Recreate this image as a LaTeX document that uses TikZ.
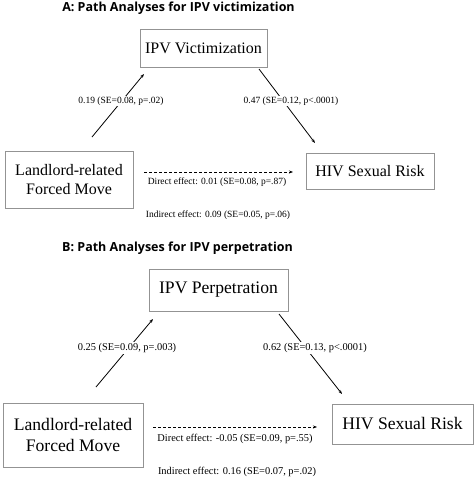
\documentclass[tikz,border=0pt]{standalone}
\usepackage{fontspec}
\setmainfont{Liberation Serif}
\newfontfamily\titlefont{Open Sans}
\usetikzlibrary{arrows.meta}
\tikzset{
	boxA/.style={
		draw=gray!85,
		line width=0.9pt,
		inner sep=0pt,
		align=center,
		font=\fontsize{16}{18.3}\selectfont
	},
	boxB/.style={
		boxA,
		font=\fontsize{17.6}{21.7}\selectfont
	},
	pathlabelA/.style={
		fill=white,
		inner sep=1pt,
		font=\fontsize{9.5}{11}\selectfont
	},
	pathlabelB/.style={
		pathlabelA,
		font=\fontsize{10.4}{12}\selectfont
	},
	effarrow/.style={
		line width=0.8pt,
		-{Stealth[length=4pt,width=3pt]}
	},
	directarrow/.style={
		effarrow,
		dash pattern=on 3pt off 2pt
	},
	paneltitle/.style={
		font=\titlefont\bfseries\fontsize{12.5}{14}\selectfont
	}
}

\begin{document}
\begin{tikzpicture}[x=1pt,y=-1pt]
	\useasboundingbox (0,0) rectangle (474,479);
	% Panel A
	\node[paneltitle] (titleA) at (178.5,8) {A: Path Analyses for IPV victimization};
	\node[boxA, minimum width=127pt, minimum height=38pt] (victA) at (203.5,48) {IPV Victimization};
	\node[boxA, minimum width=128pt, minimum height=57pt] (moveA) at (69,179.5) {Landlord-related\\Forced Move};
	\node[boxA, minimum width=128pt, minimum height=36pt] (hivA) at (370,171) {HIV Sexual Risk};
	\coordinate (a1) at (92,137);
	\coordinate (a2) at (144,74);
	\coordinate (a3) at (259,69);
	\coordinate (a4) at (315,143);
	\coordinate (a5) at (144,172);
	\coordinate (a6) at (293,172);
	\draw[effarrow] (a1) -- (a2);
	\draw[effarrow] (a3) -- (a4);
	\draw[directarrow] (a5) -- (a6);
	\node[pathlabelA] (pathA1) at (121,101) {0.19 (SE=0.08, p=.02)};
	\node[pathlabelA] (pathA2) at (291,101) {0.47 (SE=0.12, p<.0001)};
	\node[pathlabelA] (directA) at (217,182) {Direct effect: 0.01 (SE=0.08, p=.87)};
	\node[pathlabelA] (indirectA) at (218,215) {Indirect effect: 0.09 (SE=0.05, p=.06)};
	% Panel B
	\node[paneltitle] (titleB) at (177.5,248) {B: Path Analyses for IPV perpetration};
	\node[boxB, minimum width=139pt, minimum height=42pt] (perpB) at (218.5,290) {IPV Perpetration};
	\node[boxB, minimum width=140pt, minimum height=64pt] (moveB) at (73,435) {Landlord-related\\Forced Move};
	\node[boxB, minimum width=141pt, minimum height=40pt] (hivB) at (402.5,424) {HIV Sexual Risk};
	\coordinate (b1) at (96,387);
	\coordinate (b2) at (153,319);
	\coordinate (b3) at (279,314);
	\coordinate (b4) at (342,394);
	\coordinate (b5) at (153,427);
	\coordinate (b6) at (317,427);
	\draw[effarrow] (b1) -- (b2);
	\draw[effarrow] (b3) -- (b4);
	\draw[directarrow] (b5) -- (b6);
	\node[pathlabelB] (pathB1) at (127,348) {0.25 (SE=0.09, p=.003)};
	\node[pathlabelB] (pathB2) at (315,348) {0.62 (SE=0.13, p<.0001)};
	\node[pathlabelB] (directB) at (235,439) {Direct effect: -0.05 (SE=0.09, p=.55)};
	\node[pathlabelB] (indirectB) at (237,472) {Indirect effect: 0.16 (SE=0.07, p=.02)};
\end{tikzpicture}
\end{document}
